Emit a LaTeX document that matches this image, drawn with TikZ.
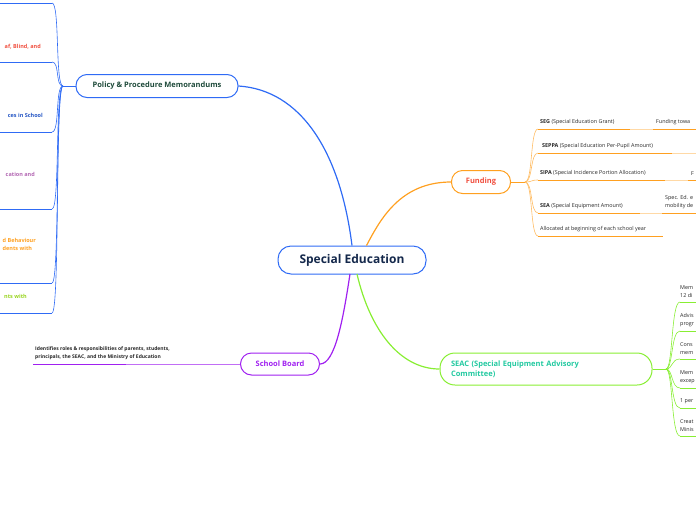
\documentclass[tikz,border=0pt]{standalone}
\usepackage{fontspec}
\setmainfont{Open Sans}
\definecolor{cblue}{HTML}{2F6BF5}
\definecolor{corange}{HTML}{FFA020}
\definecolor{cgreen}{HTML}{88EE33}
\definecolor{cpurple}{HTML}{A020F0}
\definecolor{navy}{HTML}{14284B}
\definecolor{dgreen}{HTML}{1E4A3A}
\definecolor{teal}{HTML}{22C9A0}
\definecolor{fred}{HTML}{F04E3E}
\begin{document}
\begin{tikzpicture}[x=1pt,y=-1pt,
  topic/.style={draw,rounded corners=11pt,line width=1pt,inner sep=0pt,font=\bfseries},
  leaf/.style={anchor=south west,font=\fontsize{5.4}{8}\selectfont,inner sep=1pt,align=left,text=black!85},
  lft/.style={anchor=south west,font=\bfseries\fontsize{5.5}{8}\selectfont,inner sep=1pt,align=left},
  ln/.style={line width=1pt}]
\useasboundingbox (0,0) rectangle (696,520);
\clip (0,0) rectangle (696,520);
% center
\node[topic,draw=cblue,minimum width=148pt,minimum height=28pt,rounded corners=13pt,text=navy,font=\bfseries\fontsize{12}{14}\selectfont] (c) at (352,260) {Special Education};
% Policy
\node[topic,draw=cblue,minimum width=162pt,minimum height=23pt,text=dgreen,font=\bfseries\fontsize{7.5}{9}\selectfont] (p) at (157,86) {Policy \& Procedure Memorandums};
\draw[cblue,line width=1.2pt] (c.north) .. controls (340,150) and (300,90) .. (p.east);
\coordinate (ps) at (63,86);
\draw[cblue,ln] (p.west) -- (ps);
\foreach \y in {3,62,132,209,283,313}{
  \draw[cblue,line width=0.6pt] (ps) .. controls (55,86) and (60,\y) .. (52,\y);
  \draw[cblue,ln] (52,\y) -- (0,\y);
}
\node[lft,text=fred,anchor=south east] (t1) at (42,50) {af, Blind, and};
\node[lft,text=cblue!80!black,anchor=south east] (t2) at (44,119) {ces in School};
\node[lft,text=violet!60,anchor=south east] (t3) at (36,178) {cation and};
\node[lft,text=corange] (t4) at (-8,252) {\phantom{xxx}d Behaviour\\\phantom{xxx}dents with};
\node[lft,text=yellow!60!green,anchor=south east] (t5) at (28,300) {nts with};
% Funding
\node[topic,draw=corange,minimum width=59pt,minimum height=23pt,text=fred,font=\bfseries\fontsize{7.5}{9}\selectfont] (f) at (481,182) {Funding};
\draw[corange,line width=1.2pt] (c.north east) ++(-60,0) .. controls (380,220) and (400,182) .. (f.west);
\coordinate (fs) at (525,182);
\draw[corange,ln] (f.east) -- (fs);
\foreach \y in {129,153,180,213,236}{
  \draw[corange!70,line width=0.6pt] (fs) .. controls (533,182) and (530,\y) .. (538,\y);
}
\draw[corange,ln] (538,129) -- (630,129); \draw[corange!40,ln] (630,129) -- (653,129); \draw[corange,ln] (653,129) -- (696,129);
\draw[corange,ln] (538,153) -- (672,153); \draw[corange!40,ln] (672,153) -- (696,153);
\draw[corange,ln] (538,180) -- (665,180); \draw[corange!40,ln] (665,180) -- (688,180); \draw[corange,ln] (688,180) -- (696,180);
\draw[corange,ln] (538,213) -- (640,213); \draw[corange!40,ln] (640,213) -- (662,213); \draw[corange,ln] (662,213) -- (696,213);
\draw[corange,ln] (538,236) -- (663,236);
\node[leaf] (f1) at (539,126) {\textbf{SEG} (Special Education Grant)};
\node[leaf] (f1b) at (655,126) {Funding towa};
\node[leaf] (f2) at (541,150) {\textbf{SEPPA} (Special Education Per-Pupil Amount)};
\node[leaf] (f3) at (539,177) {\textbf{SIPA} (Special Incidence Portion Allocation)};
\node[leaf] (f3b) at (690,177) {F};
\node[leaf] (f4) at (539,210) {\textbf{SEA} (Special Equipment Amount)};
\node[leaf] (f4b) at (664,210) {Spec. Ed. e\\mobility de};
\node[leaf] (f5) at (539,233) {Allocated at beginning of each school year};
% SEAC
\node[topic,draw=cgreen,minimum width=212pt,minimum height=32pt,rounded corners=15pt,text=teal,font=\bfseries\fontsize{7.5}{10}\selectfont,align=left,text width=190pt] (s) at (546,369) {SEAC (Special Equipment Advisory\\Committee)};
\draw[cgreen,line width=1.2pt] (357,274) .. controls (370,330) and (400,369) .. (s.west);
\coordinate (ss) at (666,369);
\draw[cgreen,ln] (s.east) -- (ss);
\foreach \y in {302,331,359,388,408,436}{
  \draw[cgreen,line width=0.6pt] (ss) .. controls (673,369) and (671,\y) .. (680,\y);
  \draw[cgreen,ln] (680,\y) -- (696,\y);
}
\node[leaf] (s1) at (679,299) {Mem\\12 di};
\node[leaf] (s2) at (679,328) {Advis\\progr};
\node[leaf] (s3) at (679,356) {Cons\\mem};
\node[leaf] (s4) at (679,385) {Mem\\excep};
\node[leaf] (s5) at (679,405) {1 per};
\node[leaf] (s6) at (679,433) {Creat\\Minis};
% School board
\node[topic,draw=cpurple,minimum width=79pt,minimum height=22pt,text=cpurple,font=\bfseries\fontsize{7.5}{9}\selectfont] (b) at (280,364) {School Board};
\draw[cpurple,line width=1.2pt] (350,274) .. controls (343,320) and (335,364) .. (b.east);
\coordinate (bs) at (217,364);
\draw[cpurple,ln] (b.west) -- (bs) -- (33,364);
\node[leaf,font=\bfseries\fontsize{5}{8}\selectfont] (b1) at (34,361) {Identifies roles \& responsibilities of parents, students,\\principals, the SEAC, and the Ministry of Education};
\end{tikzpicture}
\end{document}
